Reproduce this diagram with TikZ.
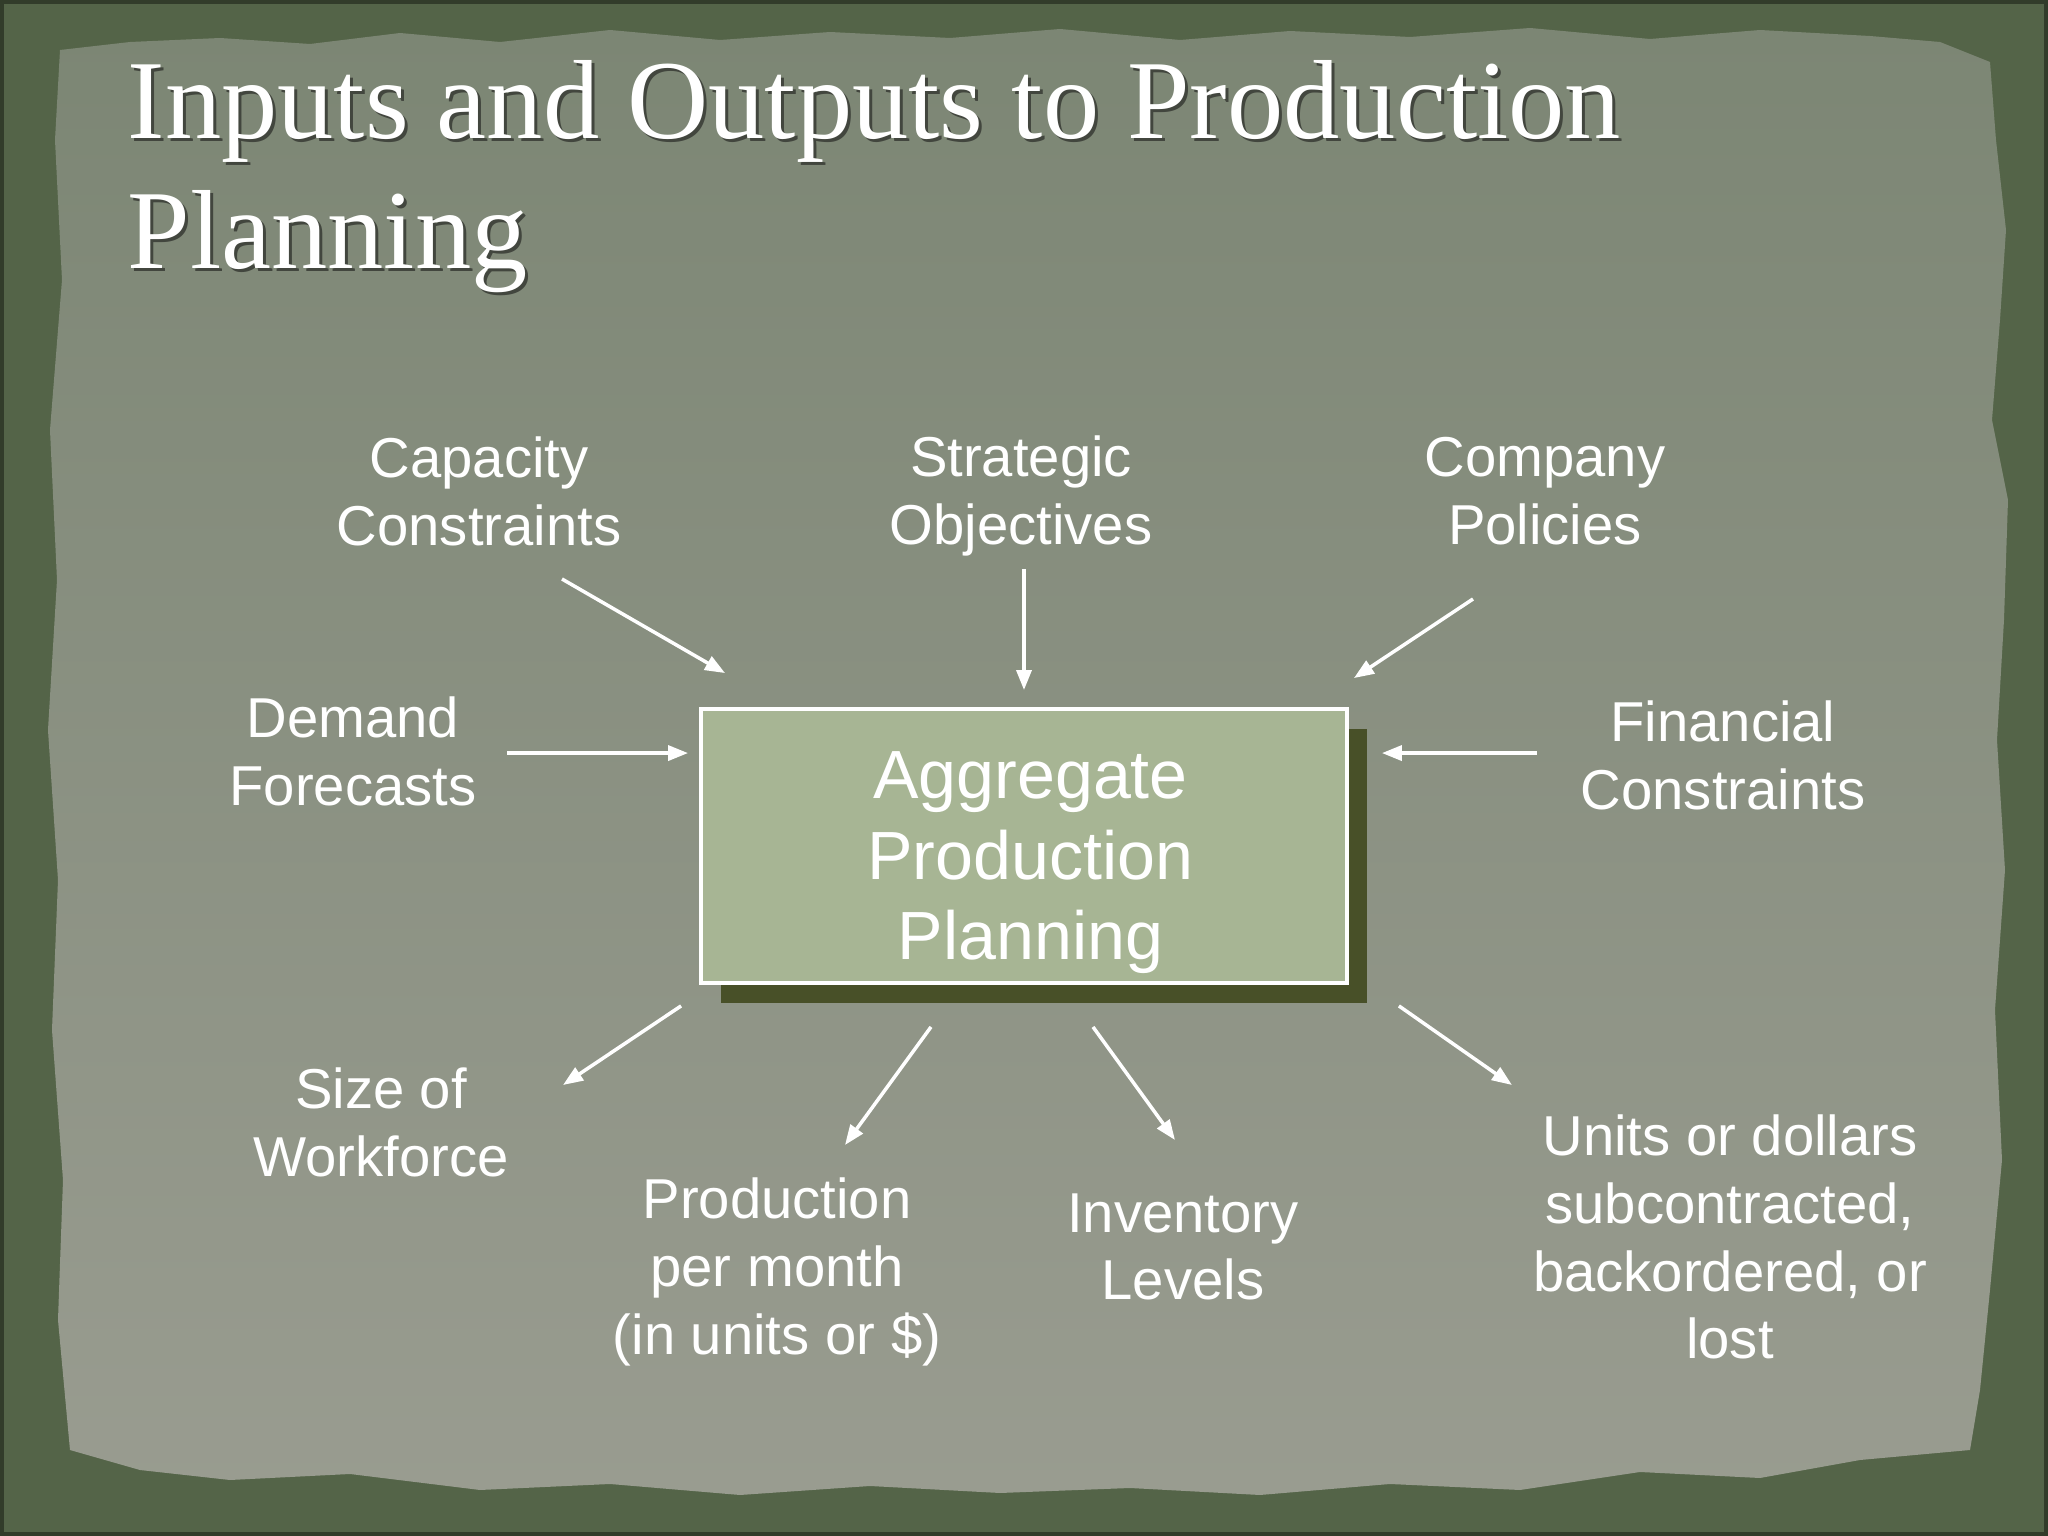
\documentclass[tikz,border=0pt]{standalone}
\usepackage{fontspec}
\setmainfont{Liberation Serif}
\setsansfont{Liberation Sans}
\usetikzlibrary{arrows.meta,shadows}

\definecolor{framegreen}{RGB}{84,100,72}
\definecolor{frameedge}{RGB}{50,60,42}
\definecolor{papertop}{RGB}{124,134,116}
\definecolor{papermid}{RGB}{138,142,130}
\definecolor{paperbot}{RGB}{153,156,144}
\definecolor{boxfill}{RGB}{167,181,148}
\definecolor{boxshadow}{RGB}{72,80,40}
\definecolor{titleedge}{RGB}{66,70,62}

\tikzset{
  lbl/.style={text=white, align=center, inner sep=0pt, font=\sffamily\fontsize{16pt}{19.3pt}\selectfont},
  arr/.style={white, line width=1pt, -{Triangle[length=0.2cm,width=0.15cm]}},
  core/.style={draw=white, line width=1.1pt, fill=boxfill, minimum width=6.46cm, minimum height=2.74cm,
    align=center, text=white, inner sep=0pt, text height=2.42cm,
    font=\sffamily\fontsize{19.4pt}{23pt}\selectfont,
    drop shadow={shadow xshift=0.2cm, shadow yshift=-0.2cm, fill=boxshadow, opacity=1}},
  headline/.style={anchor=north west, align=left, inner sep=0pt, font=\fontsize{32pt}{37pt}\selectfont}
}

\begin{document}
\begin{tikzpicture}
\useasboundingbox (0,0) rectangle (20.48,-15.36);

% frame and torn paper
\fill[framegreen] (0,0) rectangle (20.48,-15.36);
\draw[frameedge, line width=2pt] (0,0) rectangle (20.48,-15.36);
\shade[top color=papertop, middle color=papermid, bottom color=paperbot]
  (0.60,-0.50) -- (1.3,-0.42) -- (2.2,-0.38) -- (3.1,-0.44) -- (4.0,-0.33) -- (5.0,-0.42)
  -- (6.1,-0.30) -- (7.2,-0.40) -- (8.3,-0.32) -- (9.5,-0.38) -- (10.6,-0.29) -- (11.8,-0.40)
  -- (12.9,-0.31) -- (14.1,-0.37) -- (15.3,-0.28) -- (16.5,-0.39) -- (17.6,-0.30) -- (18.7,-0.36)
  -- (19.4,-0.42) -- (19.9,-0.62) -- (19.96,-1.4) -- (20.06,-2.3) -- (20.0,-3.2) -- (19.92,-4.2)
  -- (20.08,-5.0) -- (20.04,-6.2) -- (19.97,-7.4) -- (20.05,-8.7) -- (19.95,-10.1) -- (20.02,-11.6)
  -- (19.9,-12.9) -- (19.8,-13.9) -- (19.7,-14.5) -- (18.6,-14.6) -- (17.6,-14.78) -- (16.4,-14.72)
  -- (15.2,-14.9) -- (13.9,-14.84) -- (12.6,-14.95) -- (11.3,-14.88) -- (10.0,-14.93) -- (8.7,-14.86)
  -- (7.4,-14.95) -- (6.1,-14.84) -- (4.8,-14.9) -- (3.5,-14.74) -- (2.3,-14.8) -- (1.4,-14.7)
  -- (0.7,-14.5) -- (0.58,-13.2) -- (0.63,-11.8) -- (0.52,-10.3) -- (0.58,-8.8) -- (0.48,-7.3)
  -- (0.57,-5.8) -- (0.50,-4.3) -- (0.62,-2.8) -- (0.55,-1.4) -- cycle;

% title
\node(titleshade)[headline, text=titleedge] at (1.30,-0.63) {Inputs and Outputs to Production\\Planning};
\node(title)[headline, text=white] at (1.27,-0.60) {Inputs and Outputs to Production\\Planning};

% central box
\node(apc)[core] at (10.24,-8.46) {\hspace*{0.13cm}Aggregate\\\hspace*{0.13cm}Production\\\hspace*{0.13cm}Planning};

% inputs
\node(cap)[lbl] at (4.79,-4.91) {Capacity\\Constraints};
\node(strat)[lbl] at (10.21,-4.96) {Strategic\\Objectives};
\node(comp)[lbl] at (15.45,-4.91) {Company\\Policies};
\node(dem)[lbl] at (3.53,-7.51) {Demand\\Forecasts};
\node(fin)[lbl] at (17.23,-7.55) {Financial\\Constraints};

% outputs
\node(work)[lbl] at (3.81,-11.22) {Size of\\Workforce};
\node(prod)[lbl] at (7.77,-12.72) {Production\\per month\\(in units or \$)};
\node(inv)[lbl] at (11.83,-12.47) {Inventory\\Levels};
\node(units)[lbl] at (17.30,-12.37) {Units or dollars\\subcontracted,\\backordered, or\\lost};

\draw[arr] ([shift={(0.83,-0.88)}]cap.center) -- ([shift={(0.26,0.34)}]apc.north west);
\draw[arr] ([yshift=-0.12cm]apc.north |- strat.south) -- ([shift={(0,0.17)}]apc.north);
\draw[arr] ([shift={(-0.72,-1.08)}]comp.center) -- ([shift={(0.05,0.29)}]apc.north east);
\draw[arr] ([xshift=0.30cm]dem.east |- apc.north west) ++(0,-0.46) coordinate(demtail)
  -- ([xshift=-0.11cm]demtail -| apc.west);
\draw[arr] ([xshift=-0.43cm]fin.west |- apc.north east) ++(0,-0.46) coordinate(fintail)
  -- ([xshift=0.33cm]fintail -| apc.east);

\draw[arr] ([shift={(-0.18,-0.21)}]apc.south west) -- ([shift={(1.82,0.37)}]work.center);
\draw[arr] ([shift={(-0.93,-0.42)}]apc.south) -- ([shift={(0.68,1.27)}]prod.center);
\draw[arr] ([shift={(0.69,-0.42)}]apc.south) -- ([shift={(-0.08,1.07)}]inv.center);
\draw[arr] ([shift={(0.50,-0.21)}]apc.south east) -- ([shift={(-2.18,1.52)}]units.center);

\end{tikzpicture}
\end{document}
